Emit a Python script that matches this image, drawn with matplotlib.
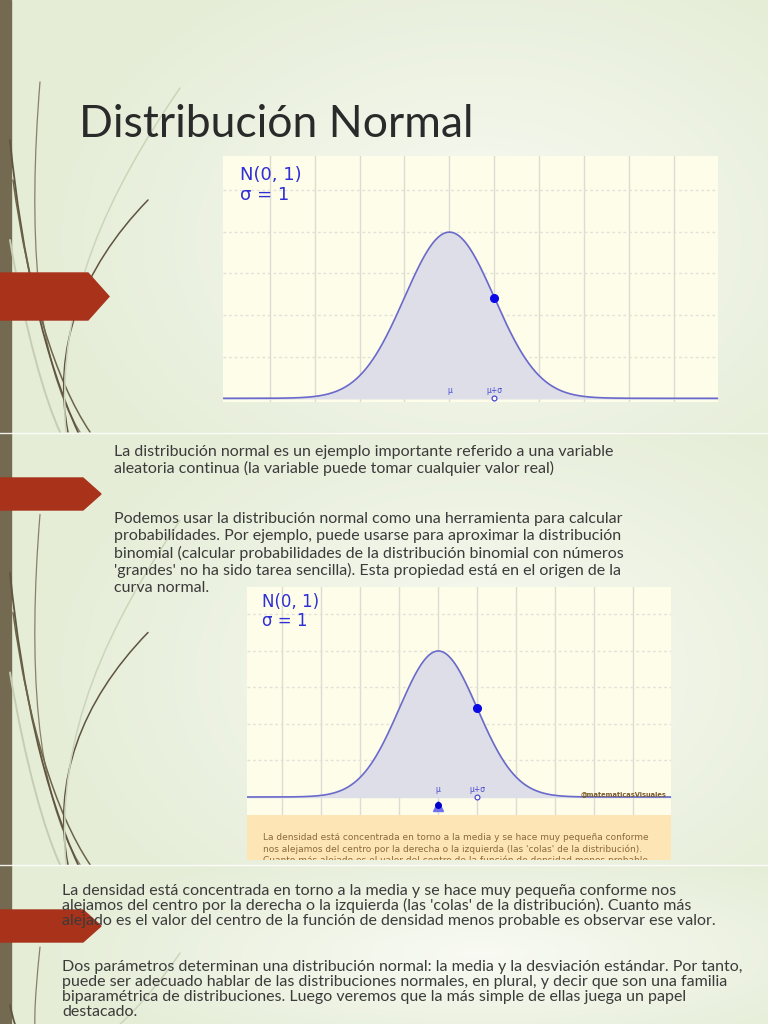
import numpy as np
import matplotlib

matplotlib.use("Agg")
import matplotlib.pyplot as plt
from matplotlib.path import Path
from matplotlib.patches import PathPatch, Polygon, Rectangle

# --- data -------------------------------------------------------------
mu = 0.0
sigma = 1.0
x_grid = [-4, -3, -2, -1, 0, 1, 2, 3, 4, 5]
y_grid = [0.1, 0.2, 0.3, 0.4, 0.5]
label_texts = ["N(0, 1)", "σ = 1"]
marker_labels = ["μ", "μ+σ"]

title = "Distribución Normal"
para1 = ["La distribución normal es un ejemplo importante referido a una variable",
         "aleatoria continua (la variable puede tomar cualquier valor real)"]
para2 = ["Podemos usar la distribución normal como una herramienta para calcular",
         "probabilidades. Por ejemplo, puede usarse para aproximar la distribución",
         "binomial (calcular probabilidades de la distribución binomial con números",
         "'grandes' no ha sido tarea sencilla). Esta propiedad está en el origen de la",
         "curva normal."]
para3 = ["La densidad está concentrada en torno a la media y se hace muy pequeña conforme nos",
         "alejamos del centro por la derecha o la izquierda (las 'colas' de la distribución). Cuanto más",
         "alejado es el valor del centro de la función de densidad menos probable es observar ese valor."]
para4 = ["Dos parámetros determinan una distribución normal: la media y la desviación estándar. Por tanto,",
         "puede ser adecuado hablar de las distribuciones normales, en plural, y decir que son una familia",
         "biparamétrica de distribuciones. Luego veremos que la más simple de ellas juega un papel",
         "destacado."]
box_text = ["La densidad está concentrada en torno a la media y se hace muy pequeña conforme",
            "nos alejamos del centro por la derecha o la izquierda (las 'colas' de la distribución).",
            "Cuanto más alejado es el valor del centro de la función de densidad menos probable"]

W, H = 768, 1024
BLUE = "#6a6acb"
TXT = "#3b3b3b"


def frac(x0, y0, x1, y1):
    return [x0 / W, 1 - y1 / H, (x1 - x0) / W, (y1 - y0) / H]


def pdf(x):
    return np.exp(-0.5 * ((x - mu) / sigma) ** 2) / (sigma * np.sqrt(2 * np.pi))


fig = plt.figure(figsize=(7.68, 10.24), dpi=100)

# --- slide background ------------------------------------------------
bg = fig.add_axes([0, 0, 1, 1])
bg.axis("off")

base = np.array([0.900, 0.930, 0.845])
light = np.array([0.975, 0.982, 0.955])
for top in [0, 432.5, 865]:
    yy, xx = np.mgrid[0:433, 0:W]
    d = np.sqrt(((xx - 480) / 430.0) ** 2 + ((yy - 240) / 300.0) ** 2)
    t = np.clip(d, 0, 1)[..., None]
    img = light * (1 - t) + base * t
    bg.imshow(img, extent=[0, W, min(top + 433, H), top], aspect="auto",
              zorder=0, interpolation="bilinear")
bg.set_xlim(0, W)
bg.set_ylim(H, 0)

bg.add_patch(Rectangle((0, 0), 11, H, color="#736a51", zorder=1))

curves = [
    # (points, color, lw)
    ([(40, 82), (28, 230), (35, 360), (80, 432)], "#8a8068", 0.9),
    ([(10, 140), (22, 260), (45, 360), (78, 432)], "#5e5440", 1.3),
    ([(13, 180), (28, 290), (55, 380), (90, 432)], "#6d6349", 1.1),
    ([(148, 200), (80, 270), (52, 350), (68, 432)], "#5e5440", 1.1),
    ([(180, 88), (110, 190), (55, 300), (66, 432)], "#cdd4bb", 1.1),
    ([(10, 240), (25, 330), (45, 400), (60, 432)], "#c6cdb2", 1.4),
]
codes = [Path.MOVETO, Path.CURVE4, Path.CURVE4, Path.CURVE4]
for off in [0, 432.5, 865]:
    for pts, col, lw in curves:
        p = [(x, min(y + off, H + 40)) for x, y in pts]
        bg.add_patch(PathPatch(Path(p, codes), fill=False, edgecolor=col,
                               lw=lw, zorder=2, capstyle="round"))
    if off > 0:
        bg.plot([0, W], [off, off], color="white", lw=1.0, alpha=0.9, zorder=3)

arrows = [(273, 320, 88, 109), (478, 510, 83, 101), (910, 942, 83, 101)]
for y0, y1, xb, xt in arrows:
    ym = (y0 + y1) / 2
    bg.add_patch(Polygon([(0, y0), (xb, y0), (xt, ym), (xb, y1), (0, y1)],
                         closed=True, color="#a8321a", zorder=4))

# --- texts ------------------------------------------------------------
bg.text(79, 137, title, fontsize=32, family="Lato", fontweight="normal",
        color="#2a2a2a", va="baseline", zorder=5)
for i, s in enumerate(para1):
    bg.text(114, 456 + 17 * i, s, fontsize=11.5, family="Lato", color=TXT,
            va="baseline", zorder=5)
for i, s in enumerate(para2):
    bg.text(114, 523 + 17.3 * i, s, fontsize=11.5, family="Lato", color=TXT,
            va="baseline", zorder=5)
for i, s in enumerate(para3):
    bg.text(62, 895 + 15 * i, s, fontsize=11.5, family="Lato", color=TXT,
            va="baseline", zorder=5)
for i, s in enumerate(para4):
    bg.text(62, 971 + 15 * i, s, fontsize=11.5, family="Lato", color=TXT,
            va="baseline", zorder=5)


# --- normal charts ----------------------------------------------------
def draw_chart(rect, xlim, ylim, fs, y_lab):
    ax = fig.add_axes(rect)
    ax.set_facecolor("#fefde9")
    ax.set_xlim(*xlim)
    ax.set_ylim(*ylim)
    for gx in x_grid:
        ax.axvline(gx, color="#dcdcd2", lw=1.0, zorder=1)
    for gy in y_grid:
        ax.axhline(gy, color="#e2e2d8", lw=1.0, ls=(0, (2, 2)), zorder=1)
    xs = np.linspace(xlim[0], xlim[1], 600)
    ys = pdf(xs)
    ax.fill_between(xs, 0, ys, color="#dedee8", zorder=2)
    ax.plot(xs, ys, color=BLUE, lw=1.2, zorder=3)
    ax.plot([mu + sigma], [pdf(mu + sigma)], "o", color="#0a0ae6", ms=5.5, zorder=4)
    ax.plot([mu + sigma], [0], "o", mfc="white", mec="#3a3ad0", ms=3.5, mew=0.8,
            zorder=4, clip_on=False)
    for yl, lab in zip(y_lab, label_texts):
        ax.text(0.035, yl, lab, transform=ax.transAxes, fontsize=fs,
                color="#2f2fd6", va="baseline", family="DejaVu Sans")
    for xv, lab in zip([mu, mu + sigma], marker_labels):
        ax.text(xv, 0.009, lab, fontsize=5.5, color="#4a4ad0", ha="center",
                va="bottom", zorder=5)
    for sp in ax.spines.values():
        sp.set_visible(False)
    ax.set_xticks([])
    ax.set_yticks([])
    return ax


# top chart px 223..718 x 156..402 ; text baselines at y 180 and 200
draw_chart(frac(223, 156, 718, 402), (-5.04, 5.98), (-0.0089, 0.5817), 13,
           [(402 - 180) / 246, (402 - 200) / 246])
# bottom chart px 247..671 x 587..815 ; text baselines at y 607 and 625
ax2 = draw_chart(frac(247, 587, 671, 815), (-4.905, 5.967), (-0.0492, 0.5738), 12,
                 [(815 - 607) / 228, (815 - 626) / 228])
ax2.plot([mu], [-0.025], "^", color="#6f6ff0", ms=7, zorder=5, clip_on=False)
ax2.plot([mu], [-0.022], "o", color="#0000cc", ms=4, zorder=6, clip_on=False)
ax2.text(0.99, 0.09, "@matematicasVisuales", transform=ax2.transAxes,
         fontsize=4.8, color="#7a5a2a", ha="right", va="center",
         fontweight="bold")

box = fig.add_axes(frac(247, 815, 671, 860))
box.set_xlim(0, 424)
box.set_ylim(45, 0)
box.set_facecolor("#fde5b6")
for sp in box.spines.values():
    sp.set_visible(False)
box.set_xticks([])
box.set_yticks([])
for i, s in enumerate(box_text):
    box.text(16, 25 + 11.5 * i, s, fontsize=6.5, color="#8a6a3c",
             va="baseline", clip_on=True)

fig.savefig("out.png", dpi=100)
